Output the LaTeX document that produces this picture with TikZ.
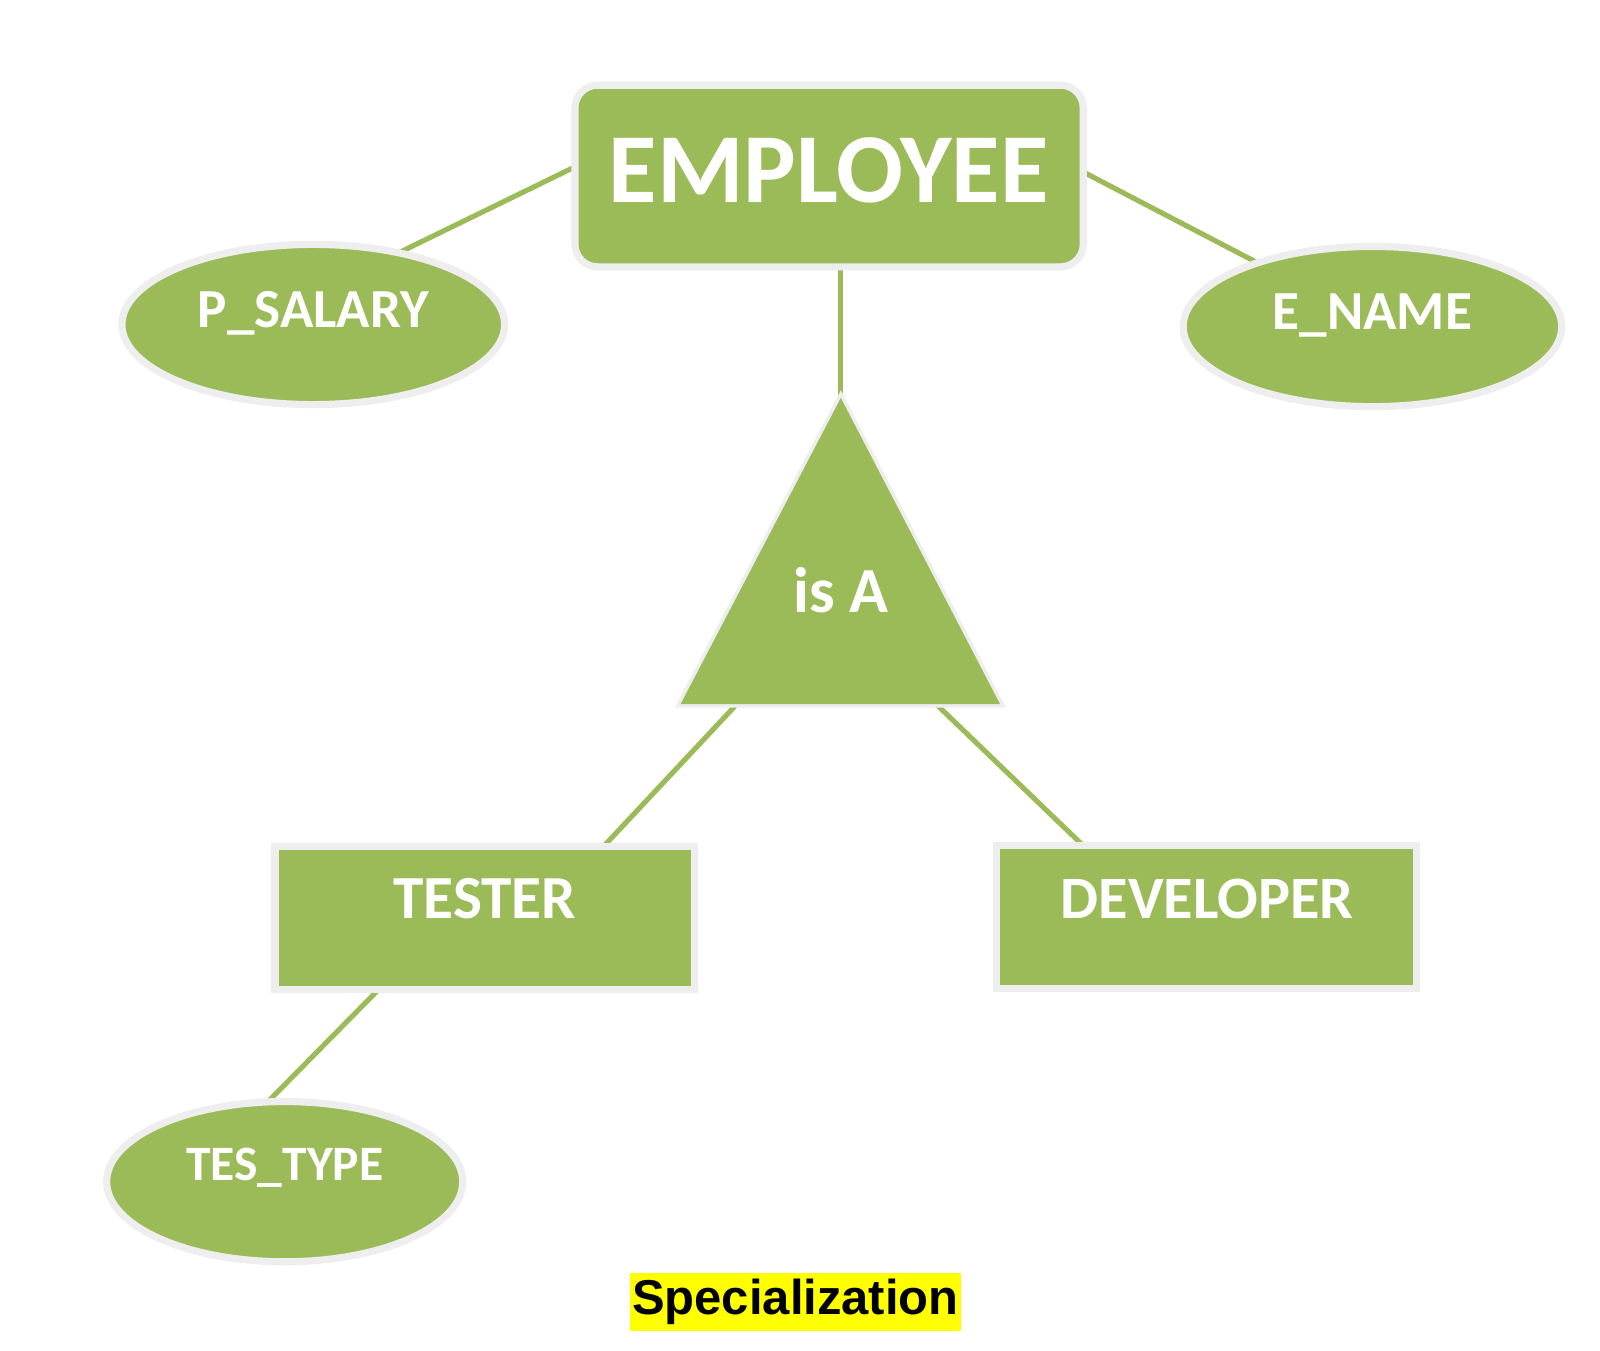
\documentclass[tikz,border=0pt]{standalone}
\usepackage{fontspec}
\setmainfont{Carlito}
\newfontfamily\arialfont{Liberation Sans}
\usetikzlibrary{shapes.geometric,backgrounds,calc}
\definecolor{ogreen}{HTML}{9BBB59}
\definecolor{halo}{HTML}{EEEEEE}
\definecolor{hiyel}{HTML}{FFFF00}
\begin{document}
\begin{tikzpicture}[x=1pt,y=-1pt,
  shp/.style={fill=ogreen,draw=halo,line width=7pt,inner sep=0pt,outer sep=0pt},
  ell/.style={shp,ellipse},
  box/.style={shp,rectangle},
  conn/.style={draw=ogreen,line width=5pt},
  wtxt/.style={text=white,font=\bfseries,inner sep=0pt}]
\useasboundingbox (0,0) rectangle (1568,1323);
% entities
\node[box,rounded corners=22pt,minimum width=498pt,minimum height=178pt] (emp) at (812.5,172.5) {};
\node[wtxt,font=\bfseries\fontsize{97}{100}\selectfont] (empt) at (812,167) {EMPLOYEE};
\node[ell,minimum width=375pt,minimum height=157pt] (psal) at (307,318) {};
\node[wtxt,font=\bfseries\fontsize{54}{56}\selectfont] (psalt) at (307,307) {P\_SALARY};
\node[ell,minimum width=371pt,minimum height=157pt] (ename) at (1345,320) {};
\node[wtxt,font=\bfseries\fontsize{54}{56}\selectfont] (enamet) at (1345,309) {E\_NAME};
% triangle
\coordinate (tA) at (824,390);
\coordinate (tL) at (667,690);
\coordinate (tR) at (980,690);
\path[shp,line join=miter] (tA) -- (tR) -- (tL) -- cycle;
\path[fill=ogreen] (tA) -- (tR) -- (tL) -- cycle;
\node[wtxt,font=\bfseries\fontsize{63}{65}\selectfont] (isa) at (824,578) {is A};
\coordinate (tb1) at ($(tL)!0.176!(tR)$);
\coordinate (tb2) at ($(tL)!0.80!(tR)$);
% subclasses
\node[box,minimum width=411pt,minimum height=140pt] (tester) at (475,899.5) {};
\node[wtxt,font=\bfseries\fontsize{60}{62}\selectfont] (testert) at (475,881) {TESTER};
\node[box,minimum width=412pt,minimum height=140pt] (dev) at (1182.5,898.5) {};
\node[wtxt,font=\bfseries\fontsize{59}{61}\selectfont] (devt) at (1183,881) {DEVELOPER};
\node[ell,minimum width=349pt,minimum height=157pt] (testype) at (279,1158) {};
\node[wtxt,font=\bfseries\fontsize{48.5}{50}\selectfont] (testypet) at (279,1144) {TES\_TYPE};
% caption
\node[fill=hiyel,minimum width=325pt,minimum height=56pt,inner sep=0pt,
  font=\arialfont\bfseries\fontsize{48}{50}\selectfont] (cap) at (779.5,1276) {Specialization};
% connectors
\begin{pgfonlayer}{background}
\path[conn] ([yshift=9pt]emp.west) -- (psal.40);
\path[conn] ([yshift=4pt]emp.east) -- (ename.151.8);
\path[conn] (emp.south -| tA) -- (tA);
\path[conn] (tb1) -- (tester.31);
\path[conn] (tb2) -- (dev.150);
\path[conn] (tester.214.8) -- (testype.102.8);
\end{pgfonlayer}
\end{tikzpicture}
\end{document}
